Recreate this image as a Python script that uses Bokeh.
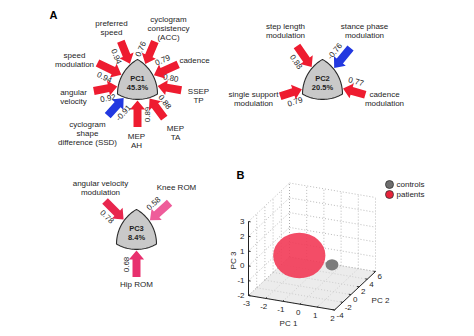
import math
from bokeh.plotting import figure
from bokeh.models import Range1d
from bokeh.core.properties import value
from bokeh.embed import file_html
from bokeh.resources import INLINE

W, H = 474, 336
FONT = value("Liberation Sans")

# ---------------- data ----------------
pc_names = ["PC1", "PC2", "PC3"]
pc_variance = [45.3, 20.5, 8.4]

pc1_labels = ["preferred\nspeed", "cyclogram\nconsistency\n(ACC)", "cadence", "SSEP\nTP",
              "MEP\nTA", "MEP\nAH", "cyclogram\nshape\ndifference (SSD)", "angular\nvelocity",
              "speed\nmodulation"]
pc1_values = [0.94, 0.76, 0.79, 0.80, 0.88, 0.89, -0.91, 0.92, 0.94]

pc2_labels = ["step length\nmodulation", "stance phase\nmodulation",
              "single support\nmodulation", "cadence\nmodulation"]
pc2_values = [0.88, -0.76, 0.79, 0.77]

pc3_labels = ["angular velocity\nmodulation", "Knee ROM", "Hip ROM"]
pc3_values = [0.78, 0.58, 0.68]

groups = ["controls", "patients"]
group_pc1 = [0.9, -1.0]
group_pc2 = [0.0, 0.0]
group_pc3 = [-0.2, 0.05]
group_radius = [0.37, 1.5]

pc1_ticks = [-3, -2, -1, 0, 1, 2]
pc2_ticks = [-4, -2, 0, 2, 4, 6]
pc3_ticks = [-2, -1, 0, 1, 2, 3]

# ---------------- layout / style ----------------
centers = [(137, 82), (322, 82), (136, 232)]          # image coords (y down)
pc1_angles = [112, 67, 24, -10, -53, -90, 228, 191, 154]
pc1_label_xy = [(111, 27.5), (168, 28), (194, 60), (198, 95.5), (175, 132),
                (136, 140.5), (87, 132.5), (73, 96.5), (74, 59.5)]
pc1_side = [1, 1, 1, 1, 1, 1, 1, 1, 1]
pc1_colors = [None] * 9

pc2_angles = [125, 51, 198, -16]
pc2_label_xy = [(285, 30.5), (364, 30.5), (253, 98.5), (384, 98.5)]
pc2_side = [1, 1, 1, 1]
pc2_colors = [None] * 4

pc3_angles = [135, 42, -90]
pc3_label_xy = [(100, 187.5), (176, 187), (136, 284)]
pc3_side = [1, 1, -1]
pc3_colors = ["#E8264E", "#EE5C9A", "#E8306E"]

RED, BLUE = "#EE1C30", "#2238E0"
SIDE = 40.0           # Reuleaux width
R_TAIL = 44.5
GAP = 1.0


def Y(y):
    return H - y


p = figure(width=W, height=H, x_range=Range1d(0, W), y_range=Range1d(0, H),
           output_backend="svg", toolbar_location=None, min_border=0)
p.axis.visible = False
p.grid.visible = False
p.outline_line_color = None
p.background_fill_color = "white"
p.border_fill_color = "white"


def text(x, y, s, size="8px", angle=0.0, align="center", baseline="middle",
         style="normal", color="#1e1e1e"):
    p.text(x=[x], y=[y], text=[s], angle=[angle], text_align=align,
           text_baseline=baseline, text_font=FONT, text_font_size=value(size),
           text_font_style=style, text_color=color)


def multiline(x, y_img, s, size="8px", lh=9.0):
    lines = s.split("\n")
    n = len(lines)
    for i, ln in enumerate(lines):
        yi = y_img + (i - (n - 1) / 2) * lh
        text(x, Y(yi), ln, size=size)


def reuleaux(cx, cy, s, n=30):
    R = s / math.sqrt(3)
    verts = [(cx + R * math.cos(math.radians(90 + 120 * k)),
              cy + R * math.sin(math.radians(90 + 120 * k))) for k in range(3)]
    xs, ys = [], []
    for k in range(3):
        a = verts[k]
        b = verts[(k + 1) % 3]
        c = verts[(k + 2) % 3]
        a0 = math.atan2(a[1] - c[1], a[0] - c[0])
        a1 = math.atan2(b[1] - c[1], b[0] - c[0])
        d = (a1 - a0 + math.pi) % (2 * math.pi) - math.pi
        for i in range(n):
            t = a0 + d * i / n
            xs.append(c[0] + s * math.cos(t))
            ys.append(c[1] + s * math.sin(t))
    return xs, ys, verts


def boundary(cx, cy, verts, s, ang):
    ux, uy = math.cos(ang), math.sin(ang)
    lo, hi = 0.0, s
    for _ in range(40):
        mid = (lo + hi) / 2
        px, py = cx + mid * ux, cy + mid * uy
        if max(math.hypot(px - vx, py - vy) for vx, vy in verts) <= s:
            lo = mid
        else:
            hi = mid
    return lo


def draw_pc(idx, labels, values, angles, label_xy, sides, colors):
    cxi, cyi = centers[idx]
    cx, cy = cxi, Y(cyi)
    xs, ys, verts = reuleaux(cx, cy, SIDE)
    axs, ays, acol = [], [], []
    for lab, v, a_deg, lxy, sd, col in zip(labels, values, angles, label_xy, sides, colors):
        a = math.radians(a_deg)
        ux, uy = math.cos(a), math.sin(a)
        nx, ny = -uy, ux
        rb = boundary(cx, cy, verts, SIDE, a) + GAP
        L = R_TAIL - rb
        h, w1, w2 = 9.0, 4.0, 7.6
        tip = (cx + rb * ux, cy + rb * uy)
        tail = (cx + R_TAIL * ux, cy + R_TAIL * uy)
        dx, dy = -ux, -uy   # from tail to tip

        def pt(s_, w_):
            return (tail[0] + s_ * dx + w_ * nx, tail[1] + s_ * dy + w_ * ny)
        poly = [pt(0, w1), pt(L - h, w1), pt(L - h, w2), tip, pt(L - h, -w2),
                pt(L - h, -w1), pt(0, -w1)]
        axs.append([q[0] for q in poly])
        ays.append([q[1] for q in poly])
        acol.append(col if col else (BLUE if v < 0 else RED))
        # value label
        rm, off = 32.0, 10.0
        ta = a_deg
        while ta > 90:
            ta -= 180
        while ta <= -90:
            ta += 180
        text(cx + rm * ux + sd * off * nx, cy + rm * uy + sd * off * ny,
             f"{v:.2f}", angle=math.radians(ta))
        multiline(lxy[0], lxy[1], lab)
    p.patches(xs=axs, ys=ays, fill_color=acol, line_color=None)
    p.patch(xs, ys, fill_color="#C9C9C9", line_color="#2a2a2a", line_width=1.1)
    text(cx, Y(cyi - 4), pc_names[idx], size="7.5px", style="bold")
    text(cx, Y(cyi + 4.5), f"{pc_variance[idx]}%", size="7.5px", style="bold")


draw_pc(0, pc1_labels, pc1_values, pc1_angles, pc1_label_xy, pc1_side, pc1_colors)
draw_pc(1, pc2_labels, pc2_values, pc2_angles, pc2_label_xy, pc2_side, pc2_colors)
draw_pc(2, pc3_labels, pc3_values, pc3_angles, pc3_label_xy, pc3_side, pc3_colors)

text(53, Y(14), "A", size="11px", style="bold", color="black")
text(240, Y(174), "B", size="11px", style="bold", color="black")

# ---------------- panel B: 3D projection ----------------
ORIGIN = (248.0, 295.0)
E1 = (17.2, 2.9)
E2 = (4.1, -3.85)
E3 = (0.0, -14.8)
x0, x1 = pc1_ticks[0], pc1_ticks[-1]
y0, y1 = pc2_ticks[0], pc2_ticks[-1]
z0, z1 = pc3_ticks[0], pc3_ticks[-1]


def proj(x, y, z):
    a, b, c = x - x0, y - y0, z - z0
    xi = ORIGIN[0] + a * E1[0] + b * E2[0] + c * E3[0]
    yi = ORIGIN[1] + a * E1[1] + b * E2[1] + c * E3[1]
    return xi, Y(yi)


def seg(p1, p2):
    a = proj(*p1)
    b = proj(*p2)
    return [a[0], b[0]], [a[1], b[1]]


# floor
fl = [proj(x0, y0, z0), proj(x1, y0, z0), proj(x1, y1, z0), proj(x0, y1, z0)]
p.patch([q[0] for q in fl], [q[1] for q in fl], fill_color="#ECECEC", line_color=None)

floor_x, floor_y = [], []
for t in pc1_ticks:
    sx, sy = seg((t, y0, z0), (t, y1, z0))
    floor_x.append(sx); floor_y.append(sy)
for t in pc2_ticks:
    sx, sy = seg((x0, t, z0), (x1, t, z0))
    floor_x.append(sx); floor_y.append(sy)
p.multi_line(floor_x, floor_y, line_color="#C4C4C4", line_width=0.8, line_dash="1 2")

wall_x, wall_y = [], []
for t in pc1_ticks:
    sx, sy = seg((t, y1, z0), (t, y1, z1))
    wall_x.append(sx); wall_y.append(sy)
for t in pc2_ticks:
    sx, sy = seg((x0, t, z0), (x0, t, z1))
    wall_x.append(sx); wall_y.append(sy)
for t in pc3_ticks:
    sx, sy = seg((x0, y0, t), (x0, y1, t))
    wall_x.append(sx); wall_y.append(sy)
    sx, sy = seg((x0, y1, t), (x1, y1, t))
    wall_x.append(sx); wall_y.append(sy)
p.multi_line(wall_x, wall_y, line_color="#A8A8A8", line_width=0.8, line_dash="1 2")

# axes lines
ax_x, ax_y = [], []
for a_, b_ in [((x0, y0, z0), (x0, y0, z1)), ((x0, y0, z0), (x1, y0, z0)),
               ((x1, y0, z0), (x1, y1, z0))]:
    sx, sy = seg(a_, b_)
    ax_x.append(sx); ax_y.append(sy)
# tick marks
for t in pc3_ticks:
    sx, sy = seg((x0, y0, t), (x0 + 0.12, y0, t))
    ax_x.append(sx); ax_y.append(sy)
for t in pc1_ticks:
    sx, sy = seg((t, y0, z0), (t, y0 + 0.25, z0))
    ax_x.append(sx); ax_y.append(sy)
for t in pc2_ticks:
    sx, sy = seg((x1, t, z0), (x1 - 0.12, t, z0))
    ax_x.append(sx); ax_y.append(sy)
p.multi_line(ax_x, ax_y, line_color="#222222", line_width=1)

for t in pc3_ticks:
    px_, py_ = proj(x0, y0, t)
    text(px_ - 4, py_, str(t), align="right")
for t in pc1_ticks:
    px_, py_ = proj(t, y0, z0)
    text(px_ - 2, py_ - 8, str(t))
for t in pc2_ticks:
    px_, py_ = proj(x1, t, z0)
    text(px_ + 2, py_ - 5, str(t), align="left")

text(288, Y(323), "PC 1")
text(380, Y(300), "PC 2")
text(233, Y(260), "PC 3", angle=math.pi / 2)

# spheres
sphere_colors = ["#7C7C7C", "#F23A56"]
sphere_alpha = [1.0, 0.9]
for gx, gy, gz, r, col, al in zip(group_pc1, group_pc2, group_pc3, group_radius,
                                  sphere_colors, sphere_alpha):
    sx, sy = proj(gx, gy, gz)
    p.ellipse(x=[sx], y=[sy], width=[2 * r * 17.4], height=[2 * r * 15.2],
              fill_color=col, fill_alpha=al, line_color=None)

# legend
legend_colors = ["#6E6E6E", "#E8233A"]
for i, (g, c) in enumerate(zip(groups, legend_colors)):
    yy = Y(184 + i * 10)
    p.scatter(x=[389], y=[yy], size=8, fill_color=c, line_color="#333333", line_width=0.8)
    text(396, yy, g, align="left")

open("out.html", "w").write(file_html(p, INLINE))
